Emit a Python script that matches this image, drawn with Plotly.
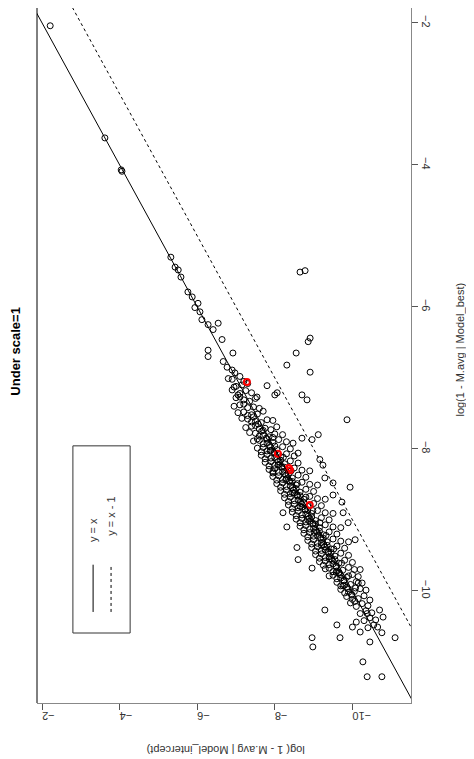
import plotly.graph_objects as go

# values: best = log(1 - M.avg | Model_best), intercept = log(1 - M.avg | Model_intercept)
best_sparse = [-2.04, -3.62, -4.07, -4.09, -5.30, -5.44, -5.48, -5.58, -5.79, -5.86, -5.95, -6.01, -6.07,
               -6.18, -6.25, -6.32, -6.23, -6.46, -6.61, -6.70, -6.65, -6.77, -6.85, -6.89, -6.93,
               -5.51, -5.49, -6.44, -6.49, -6.65, -6.82, -6.92,
               -7.11, -7.21, -7.24, -7.24, -7.31, -7.59, -7.27,
               -10.27, -10.48, -10.66, -10.66, -10.79, -11.00, -11.21, -11.21, -10.66, -10.72, -10.59,
               -10.51, -10.58, -10.27, -10.37, -10.32, -10.44, -9.56, -9.39, -9.68, -9.10, -8.90, -8.32,
               -7.80, -7.87, -8.15, -8.41, -8.48, -8.54, -8.75, -8.90, -9.04, -9.28, -9.70, -9.89,
               -8.23, -7.85, -7.92, -8.65]
intercept_sparse = [-2.21, -3.62, -4.04, -4.06, -5.32, -5.43, -5.51, -5.58, -5.76, -5.87, -6.02, -5.94, -6.07,
                    -6.12, -6.28, -6.41, -6.54, -6.64, -6.28, -6.28, -6.92, -6.67, -6.77, -6.90, -6.97,
                    -8.65, -8.78, -8.91, -8.86, -8.55, -8.31, -8.91,
                    -7.80, -8.06, -8.00, -8.70, -8.83, -9.86, -7.54,
                    -9.29, -9.60, -9.68, -8.96, -8.98, -10.27, -10.38, -10.76, -11.10, -10.45, -10.76,
                    -10.00, -10.20, -10.70, -10.79, -10.38, -10.10, -8.60, -8.57, -8.96, -8.31, -8.21, -7.95,
                    -9.12, -8.96, -9.16, -9.29, -9.50, -9.94, -9.73, -9.76, -9.89, -10.07, -10.20, -10.15,
                    -9.24, -8.70, -8.47, -9.50]

# the dense band along y = x
best_dense = [-7.02, -6.98, -7.05, -7.01,
              -7.12, -7.08, -7.13, -7.10,
              -7.22, -7.18, -7.21, -7.17, -7.24,
              -7.31, -7.28, -7.33, -7.29, -7.27,
              -7.42, -7.38, -7.41, -7.43, -7.37, -7.40,
              -7.52, -7.48, -7.51, -7.47, -7.53, -7.49,
              -7.61, -7.58, -7.63, -7.59, -7.62, -7.57, -7.60,
              -7.72, -7.68, -7.71, -7.73, -7.67, -7.70, -7.69,
              -7.81, -7.78, -7.83, -7.79, -7.82, -7.77, -7.80, -7.84,
              -7.92, -7.88, -7.91, -7.87, -7.93, -7.89, -7.90, -7.86,
              -8.02, -7.98, -8.01, -7.97, -8.03, -7.99, -8.00, -8.04, -7.96,
              -8.12, -8.08, -8.11, -8.07, -8.13, -8.09, -8.10, -8.14, -8.06,
              -8.22, -8.18, -8.21, -8.17, -8.23, -8.19, -8.20, -8.24, -8.16,
              -8.32, -8.28, -8.31, -8.27, -8.33, -8.29, -8.30, -8.34, -8.26, -8.31,
              -8.42, -8.38, -8.41, -8.37, -8.43, -8.39, -8.40, -8.44, -8.36,
              -8.52, -8.48, -8.51, -8.47, -8.53, -8.49, -8.50, -8.54, -8.46, -8.51,
              -8.62, -8.58, -8.61, -8.57, -8.63, -8.59, -8.60, -8.64, -8.56,
              -8.72, -8.68, -8.71, -8.67, -8.73, -8.69, -8.70, -8.74, -8.66, -8.71,
              -8.82, -8.78, -8.81, -8.77, -8.83, -8.79, -8.80, -8.84, -8.76,
              -8.92, -8.88, -8.91, -8.87, -8.93, -8.89, -8.90, -8.94, -8.86, -8.91,
              -9.02, -8.98, -9.01, -8.97, -9.03, -8.99, -9.00, -9.04, -8.96,
              -9.12, -9.08, -9.11, -9.07, -9.13, -9.09, -9.10, -9.14, -9.06, -9.11,
              -9.22, -9.18, -9.21, -9.17, -9.23, -9.19, -9.20, -9.24, -9.16,
              -9.32, -9.28, -9.31, -9.27, -9.33, -9.29, -9.30, -9.34, -9.26, -9.31,
              -9.42, -9.38, -9.41, -9.37, -9.43, -9.39, -9.40, -9.44, -9.36,
              -9.52, -9.48, -9.51, -9.47, -9.53, -9.49, -9.50, -9.54, -9.46,
              -9.62, -9.58, -9.61, -9.57, -9.63, -9.59, -9.60, -9.64, -9.56,
              -9.72, -9.68, -9.71, -9.67, -9.73, -9.69, -9.70, -9.74,
              -9.82, -9.78, -9.81, -9.77, -9.83, -9.79, -9.80,
              -9.92, -9.88, -9.91, -9.87, -9.93, -9.89,
              -10.02, -9.98, -10.01, -9.97, -10.03, -9.99,
              -10.12, -10.08, -10.11, -10.07, -10.13,
              -10.22, -10.18, -10.21, -10.17,
              -10.32, -10.28, -10.31,
              -10.42, -10.38, -10.41,
              -10.52, -10.48, -10.51]
intercept_dense = [-6.90, -7.10, -7.20, -6.80,
                   -7.00, -7.30, -6.95, -7.15,
                   -7.10, -7.25, -7.40, -6.90, -7.05,
                   -7.20, -7.00, -7.35, -7.50, -7.10,
                   -7.30, -7.10, -7.45, -7.60, -7.20, -6.95,
                   -7.40, -7.20, -7.55, -7.70, -7.30, -7.05,
                   -7.50, -7.30, -7.65, -7.80, -7.40, -7.15, -7.95,
                   -7.60, -7.40, -7.75, -7.90, -7.50, -7.25, -8.05,
                   -7.70, -7.50, -7.85, -8.00, -7.60, -7.35, -8.20, -7.95,
                   -7.80, -7.60, -7.95, -8.10, -7.70, -7.45, -8.30, -7.55,
                   -7.90, -7.70, -8.05, -8.20, -7.80, -7.55, -8.40, -7.65, -8.00,
                   -8.00, -7.80, -8.15, -8.30, -7.90, -7.65, -8.50, -7.75, -8.60,
                   -8.10, -7.90, -8.25, -8.40, -8.00, -7.75, -8.60, -7.85, -8.15,
                   -8.20, -8.00, -8.35, -8.50, -8.10, -7.85, -8.70, -7.95, -8.25, -8.90,
                   -8.30, -8.10, -8.45, -8.60, -8.20, -7.95, -8.80, -8.05, -8.35,
                   -8.40, -8.20, -8.55, -8.70, -8.30, -8.05, -8.90, -8.15, -8.45, -9.10,
                   -8.50, -8.30, -8.65, -8.80, -8.40, -8.15, -9.00, -8.25, -8.55,
                   -8.60, -8.40, -8.75, -8.90, -8.50, -8.25, -9.10, -8.35, -8.65, -9.30,
                   -8.70, -8.50, -8.85, -9.00, -8.60, -8.35, -9.20, -8.45, -8.75,
                   -8.80, -8.60, -8.95, -9.10, -8.70, -8.45, -9.30, -8.55, -8.85, -9.50,
                   -8.90, -8.70, -9.05, -9.20, -8.80, -8.55, -9.40, -8.65, -8.95,
                   -9.00, -8.80, -9.15, -9.30, -8.90, -8.65, -9.50, -8.75, -9.05, -9.70,
                   -9.10, -8.90, -9.25, -9.40, -9.00, -8.75, -9.60, -8.85, -9.15,
                   -9.20, -9.00, -9.35, -9.50, -9.10, -8.85, -9.70, -8.95, -9.25, -9.90,
                   -9.30, -9.10, -9.45, -9.60, -9.20, -8.95, -9.80, -9.05, -9.35,
                   -9.40, -9.20, -9.55, -9.70, -9.30, -9.05, -9.90, -9.15, -9.45,
                   -9.50, -9.30, -9.65, -9.80, -9.40, -9.15, -10.00, -9.25, -9.55,
                   -9.60, -9.40, -9.75, -9.90, -9.50, -9.30, -10.05, -9.65,
                   -9.70, -9.50, -9.85, -10.00, -9.60, -9.40, -10.15,
                   -9.80, -9.60, -9.95, -10.10, -9.70, -10.25,
                   -9.90, -9.70, -10.05, -10.20, -9.80, -10.35,
                   -10.00, -9.85, -10.15, -10.30, -10.45,
                   -10.10, -10.25, -10.40, -9.95,
                   -10.20, -10.35, -10.50,
                   -10.30, -10.45, -10.60,
                   -10.40, -10.55, -10.65]

# extra points filling the core of the band
best_core = [-7.55, -7.65, -7.75, -7.85, -7.95, -8.05, -8.15, -8.25, -8.35, -8.45,
             -8.55, -8.65, -8.75, -8.85, -8.95, -9.05, -9.15, -9.25, -9.35, -9.45,
             -9.55, -9.65, -9.75, -9.85, -9.95, -10.05, -10.15,
             -7.74, -7.86, -7.97, -8.06, -8.18, -8.26, -8.37, -8.46, -8.58, -8.66,
             -8.77, -8.86, -8.98, -9.06, -9.17, -9.26, -9.38, -9.46, -9.57, -9.66,
             -9.77, -9.86, -9.97, -10.06,
             -8.12, -8.31, -8.49, -8.68, -8.87, -9.04, -9.22, -9.41, -9.61, -9.79, -9.96,
             -8.03, -8.23, -8.44, -8.62, -8.81, -8.99, -9.18, -9.36, -9.55, -9.74, -9.93]
intercept_core = [-7.45, -7.57, -7.66, -7.78, -7.86, -7.98, -8.06, -8.18, -8.26, -8.38,
                  -8.46, -8.58, -8.66, -8.78, -8.86, -8.98, -9.06, -9.18, -9.26, -9.38,
                  -9.46, -9.58, -9.66, -9.78, -9.86, -9.98, -10.06,
                  -7.70, -7.80, -7.88, -7.99, -8.08, -8.18, -8.28, -8.38, -8.48, -8.58,
                  -8.68, -8.78, -8.88, -8.98, -9.08, -9.18, -9.28, -9.38, -9.48, -9.58,
                  -9.68, -9.78, -9.88, -9.98,
                  -8.22, -8.42, -8.58, -8.80, -8.98, -9.16, -9.32, -9.52, -9.72, -9.90, -10.08,
                  -7.88, -8.08, -8.28, -8.46, -8.65, -8.84, -9.02, -9.20, -9.40, -9.58, -9.76]

best_red = [-7.06, -8.07, -8.30, -8.27, -8.79]
intercept_red = [-7.28, -8.08, -8.39, -8.36, -8.90]

line_best = [-12.5, -1.0]
tick_vals = [-2, -4, -6, -8, -10]

fig = go.Figure()
for bx, iy in [(best_sparse, intercept_sparse), (best_dense, intercept_dense), (best_core, intercept_core)]:
    fig.add_trace(go.Scatter(x=iy, y=bx, mode='markers',
                             marker=dict(symbol='circle-open', size=6, color='black', line=dict(width=1))))
fig.add_trace(go.Scatter(x=intercept_red, y=best_red, mode='markers',
                         marker=dict(symbol='circle-open', size=6, color='red', line=dict(width=2))))
# y = x and y = x - 1
fig.add_trace(go.Scatter(x=line_best, y=line_best, mode='lines', line=dict(color='black', width=1)))
fig.add_trace(go.Scatter(x=[b - 1 for b in line_best], y=line_best, mode='lines',
                         line=dict(color='black', width=1, dash='3px,3px')))

font = dict(family='Liberation Sans, Arial', size=11, color='#333')
# page body margin shifts the figure by 8px, margins compensate
fig.update_layout(
    width=474, height=759, margin=dict(l=29, r=71, t=0, b=64),
    plot_bgcolor='white', paper_bgcolor='white', showlegend=False, font=font,
    xaxis=dict(range=[-1.87, -11.51], tickvals=tick_vals, tickangle=180, ticks='outside', ticklen=6,
               showgrid=False, zeroline=False, showline=True, linecolor='#888', tickcolor='#555',
               automargin=False),
    yaxis=dict(range=[-11.58, -1.79], tickvals=tick_vals, tickangle=90, side='right', ticks='outside',
               ticklen=6, showgrid=False, zeroline=False, showline=True, linecolor='#888', tickcolor='#555',
               automargin=False),
)
# left box edge
fig.add_shape(type='line', xref='paper', yref='paper', x0=0, x1=0, y0=0, y1=1, line=dict(color='black', width=1))

fig.add_annotation(text='<b>Under scale=1</b>', xref='paper', yref='paper', x=-0.058, y=0.506,
                   xanchor='center', yanchor='middle',
                   textangle=-90, showarrow=False, font=dict(family='Liberation Sans, Arial', size=13, color='black'))
fig.add_annotation(text='log(1 - M.avg | Model_best)', xref='paper', yref='paper', x=1.13, y=0.508,
                   xanchor='center', yanchor='middle', textangle=-90, showarrow=False, font=font)
fig.add_annotation(text='log( 1 - M.avg | Model_intercept)', xref='paper', yref='paper', x=0.505, y=-0.0676,
                   xanchor='center', yanchor='middle', textangle=180, showarrow=False, font=font)

# legend box
fig.add_shape(type='rect', xref='paper', yref='paper', x0=0.096, x1=0.249, y0=0.1007, y1=0.370,
              line=dict(color='#333', width=1))
fig.add_shape(type='line', xref='paper', yref='paper', x0=0.150, x1=0.150, y0=0.131, y1=0.199,
              line=dict(color='black', width=1))
fig.add_shape(type='line', xref='paper', yref='paper', x0=0.198, x1=0.198, y0=0.131, y1=0.199,
              line=dict(color='black', width=1, dash='3px,3px'))
fig.add_annotation(text='y = x', xref='paper', yref='paper', x=0.150, y=0.249, textangle=-90,
                   xanchor='center', yanchor='middle',
                   showarrow=False, font=dict(family='Liberation Sans, Arial', size=11, color='#333'))
fig.add_annotation(text='y = x - 1', xref='paper', yref='paper', x=0.198, y=0.268, textangle=-90,
                   xanchor='center', yanchor='middle',
                   showarrow=False, font=dict(family='Liberation Sans, Arial', size=11, color='#333'))

fig.write_html("out.html")
